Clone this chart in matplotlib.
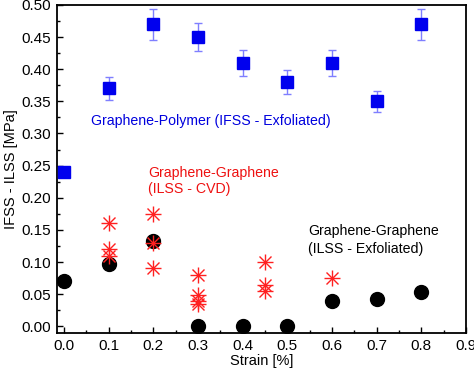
import matplotlib
matplotlib.use("Agg")
import matplotlib.pyplot as plt
from matplotlib.ticker import MultipleLocator

plt.rcParams['font.family'] = ['Liberation Sans', 'DejaVu Sans']

# Graphene-Polymer (IFSS - Exfoliated)
poly_x = [0.0, 0.1, 0.2, 0.3, 0.4, 0.5, 0.6, 0.7, 0.8]
poly_y = [0.24, 0.37, 0.47, 0.45, 0.41, 0.38, 0.41, 0.35, 0.47]
poly_err = [0.008, 0.018, 0.024, 0.022, 0.02, 0.018, 0.02, 0.016, 0.024]

# Graphene-Graphene (ILSS - Exfoliated)
exf_x = [0.0, 0.1, 0.2, 0.3, 0.4, 0.5, 0.6, 0.7, 0.8]
exf_y = [0.07, 0.097, 0.133, 0.0, 0.0, 0.0, 0.04, 0.043, 0.053]

# Graphene-Graphene (ILSS - CVD)
cvd_x = [0.1, 0.1, 0.1, 0.2, 0.2, 0.2, 0.3, 0.3, 0.3, 0.3, 0.45, 0.45, 0.45, 0.6]
cvd_y = [0.16, 0.12, 0.11, 0.175, 0.13, 0.09, 0.08, 0.048, 0.04, 0.035, 0.1, 0.065, 0.055, 0.075]

fig = plt.figure(figsize=(4.74, 3.75), dpi=100)
ax = fig.add_axes([0.120, 0.111, 0.863, 0.876])

ax.errorbar(poly_x, poly_y, yerr=poly_err, fmt='s', color='#0000ee', ms=9,
            ecolor='#7f7fff', elinewidth=1, capsize=3, capthick=1, zorder=3)
ax.plot(exf_x, exf_y, 'o', color='black', ms=10, zorder=3)
ax.plot(cvd_x, cvd_y, '+', color='#ff2020', ms=12, mew=1, zorder=4)
ax.plot(cvd_x, cvd_y, 'x', color='#ff2020', ms=8.5, mew=1, zorder=4)
ax.plot(cvd_x, cvd_y, '.', color='#ff2020', ms=3, zorder=4)

fs = 10.2
ax.text(0.06, 0.32, 'Graphene-Polymer (IFSS - Exfoliated)', color='#0000dd', fontsize=fs, va='center')
ax.text(0.188, 0.239, 'Graphene-Graphene', color='#ee1111', fontsize=fs, va='center')
ax.text(0.188, 0.213, '(ILSS - CVD)', color='#ee1111', fontsize=fs, va='center')
ax.text(0.547, 0.148, 'Graphene-Graphene', color='black', fontsize=fs, va='center')
ax.text(0.547, 0.121, '(ILSS - Exfoliated)', color='black', fontsize=fs, va='center')

ax.set_xlim(-0.016, 0.9)
ax.set_ylim(-0.011, 0.5)
ax.xaxis.set_major_locator(MultipleLocator(0.1))
ax.xaxis.set_minor_locator(MultipleLocator(0.05))
ax.yaxis.set_major_locator(MultipleLocator(0.05))
ax.yaxis.set_minor_locator(MultipleLocator(0.025))
ax.xaxis.set_major_formatter(plt.FormatStrFormatter('%.1f'))
ax.yaxis.set_major_formatter(plt.FormatStrFormatter('%.2f'))
ax.tick_params(which='both', direction='in', top=False, right=False, labelsize=11)
ax.tick_params(which='major', length=4, width=1, pad=4)
ax.tick_params(which='minor', length=2.5, width=1)
for s in ax.spines.values():
    s.set_linewidth(1.3)

ax.set_xlabel('Strain [%]', fontsize=10.5, labelpad=1)
ax.set_ylabel('IFSS - ILSS [MPa]', fontsize=10.5, labelpad=3)

fig.savefig('out.png', dpi=100)
